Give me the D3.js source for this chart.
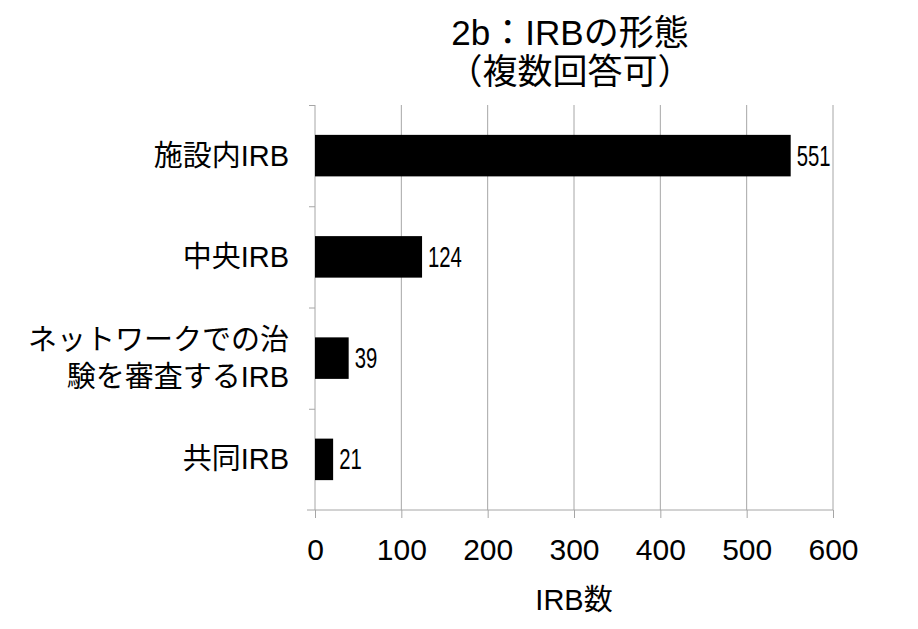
<!DOCTYPE html>
<html>
<head>
<meta charset="utf-8">
<script src="https://cdn.jsdelivr.net/npm/d3@7"></script>
<style>
  body { margin: 0; background: #fff; }
  svg { display: block; font-family: 'Liberation Sans', 'Noto Sans CJK JP', sans-serif; }
</style>
</head>
<body>
<div class="viz"></div>
<script>
// categories (each one can wrap on two lines) and counts
const categories = ['施設内IRB', '中央IRB', 'ネットワークでの治験を審査するIRB', '共同IRB'];
const labelLines = [['施設内IRB'], ['中央IRB'], ['ネットワークでの治', '験を審査するIRB'], ['共同IRB']];
const counts = [551, 124, 39, 21];
const xTicks = [0, 100, 200, 300, 400, 500, 600];

const margin = { top: 105, right: 85, bottom: 119, left: 315 };
const width = 918 - (margin.left + margin.right);
const height = 629 - (margin.top + margin.bottom);

const svg = d3.select('.viz')
  .append('svg')
  .attr('width', 918)
  .attr('height', 629);

// title on two lines
const title = svg.append('text')
  .attr('text-anchor', 'middle')
  .attr('font-size', 35)
  .attr('fill', '#000');
title.append('tspan').attr('x', 570).attr('y', 45).text('2b：IRBの形態');
title.append('tspan').attr('x', 570).attr('y', 84).text('（複数回答可）');

const group = svg.append('g')
  .attr('transform', `translate(${margin.left} ${margin.top})`);

const xScale = d3.scaleLinear()
  .domain([0, 600])
  .range([0, width]);

const yScale = d3.scaleBand()
  .domain(categories)
  .range([0, height])
  .paddingInner(0.59)
  .paddingOuter(0.295);

// vertical grid lines
group.append('g')
  .selectAll('line')
  .data(xTicks.slice(1))
  .enter()
  .append('line')
  .attr('x1', d => xScale(d))
  .attr('x2', d => xScale(d))
  .attr('y1', 0)
  .attr('y2', height)
  .attr('stroke', '#a6a6a6')
  .attr('stroke-width', 1);

// x axis
const xAxis = d3.axisBottom(xScale)
  .tickValues(xTicks)
  .tickSize(8)
  .tickPadding(21);

const gx = group.append('g')
  .attr('transform', `translate(0 ${height})`)
  .call(xAxis);
gx.select('.domain').attr('stroke', '#a6a6a6').attr('d', `M-8,0H${width}`);
gx.selectAll('line').attr('stroke', '#a6a6a6');
gx.selectAll('text')
  .attr('font-size', 30)
  .attr('font-family', "'Liberation Sans', sans-serif")
  .attr('fill', '#000');

// y axis: line and ticks at band boundaries
const step = yScale.step();
group.append('line')
  .attr('x1', 0).attr('x2', 0)
  .attr('y1', 0).attr('y2', height)
  .attr('stroke', '#a6a6a6');
group.append('g')
  .selectAll('line')
  .data(d3.range(categories.length))
  .enter()
  .append('line')
  .attr('x1', -6)
  .attr('x2', 0)
  .attr('y1', i => i * step + 0.5)
  .attr('y2', i => i * step + 0.5)
  .attr('stroke', '#a6a6a6');

// category labels
const labels = group.append('g')
  .selectAll('text')
  .data(categories)
  .enter()
  .append('text')
  .attr('text-anchor', 'end')
  .attr('font-size', 29)
  .attr('fill', '#000');
labels.each(function (d, i) {
  const lines = labelLines[i];
  const cy = yScale(d) + yScale.bandwidth() / 2;
  lines.forEach((line, j) => {
    d3.select(this)
      .append('tspan')
      .attr('x', -26)
      .attr('y', cy + 10 + (j - (lines.length - 1) / 2) * 37)
      .text(line);
  });
});

// bars
group.append('g')
  .selectAll('rect')
  .data(categories)
  .enter()
  .append('rect')
  .attr('x', 0)
  .attr('y', d => yScale(d))
  .attr('width', (d, i) => xScale(counts[i]))
  .attr('height', yScale.bandwidth())
  .attr('fill', '#000');

// value labels (narrow figures)
group.append('g')
  .selectAll('text')
  .data(categories)
  .enter()
  .append('text')
  .attr('transform', (d, i) => `translate(${xScale(counts[i]) + 6} ${yScale(d) + yScale.bandwidth() / 2 + 10}) scale(0.7 1)`)
  .attr('font-size', 29)
  .attr('fill', '#000')
  .text((d, i) => counts[i]);

// axis title
svg.append('text')
  .attr('x', 574)
  .attr('y', 610)
  .attr('text-anchor', 'middle')
  .attr('font-size', 29)
  .attr('fill', '#000')
  .text('IRB数');
</script>
</body>
</html>
